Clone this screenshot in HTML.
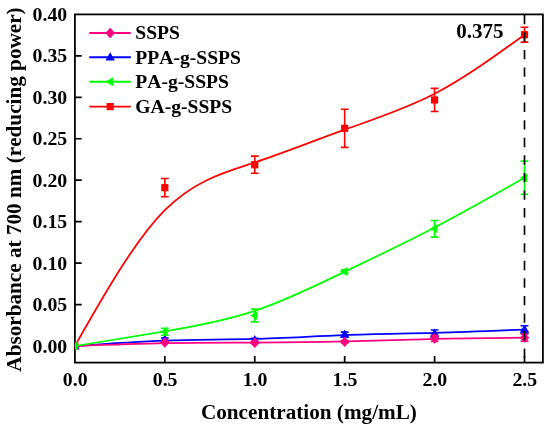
<!DOCTYPE html>
<html><head><meta charset="utf-8"><title>chart</title><style>html,body{margin:0;padding:0;background:#fff}svg{display:block}</style></head><body>
<svg width="550" height="425" viewBox="0 0 550 425">
<rect width="550" height="425" fill="#fff"/>
<rect x="74.90" y="14.40" width="468.00" height="348.20" fill="none" stroke="#000" stroke-width="1.8"/>
<path d="M164.82 362.60v-6.5M254.75 362.60v-6.5M344.67 362.60v-6.5M434.60 362.60v-6.5M524.52 362.60v-6.5M74.90 346.02h6.8M74.90 304.57h6.8M74.90 263.11h6.8M74.90 221.66h6.8M74.90 180.21h6.8M74.90 138.76h6.8M74.90 97.30h6.8M74.90 55.85h6.8" stroke="#000" stroke-width="1.7" fill="none"/>
<clipPath id="cp"><rect x="74.90" y="14.40" width="468.00" height="348.20"/></clipPath>
<g clip-path="url(#cp)">
<path d="M74.90 346.02 C104.88 293.24 134.85 240.45 164.82 210.23 C194.80 180.02 224.78 172.36 254.75 162.47 C284.72 152.57 314.70 140.44 344.67 129.65 C374.65 118.86 404.62 109.41 434.60 93.81 C464.57 78.21 494.55 56.46 524.52 34.71" fill="none" stroke="#ff0000" stroke-width="1.75"/>
<rect x="71.30" y="342.42" width="7.2" height="7.2" fill="#ff0000"/>
<path d="M164.82 178.55V196.79M160.92 178.55h7.8M160.92 196.79h7.8" stroke="#ff0000" stroke-width="1.6" fill="none"/>
<rect x="161.22" y="184.07" width="7.2" height="7.2" fill="#ff0000"/>
<path d="M254.75 156.17V173.25M250.85 156.17h7.8M250.85 173.25h7.8" stroke="#ff0000" stroke-width="1.6" fill="none"/>
<rect x="251.15" y="161.11" width="7.2" height="7.2" fill="#ff0000"/>
<path d="M344.67 109.24V147.38M340.77 109.24h7.8M340.77 147.38h7.8" stroke="#ff0000" stroke-width="1.6" fill="none"/>
<rect x="341.07" y="124.71" width="7.2" height="7.2" fill="#ff0000"/>
<path d="M434.60 88.35V111.56M430.70 88.35h7.8M430.70 111.56h7.8" stroke="#ff0000" stroke-width="1.6" fill="none"/>
<rect x="431.00" y="96.36" width="7.2" height="7.2" fill="#ff0000"/>
<path d="M524.52 27.25V42.17M520.62 27.25h7.8M520.62 42.17h7.8" stroke="#ff0000" stroke-width="1.6" fill="none"/>
<rect x="520.92" y="31.11" width="7.2" height="7.2" fill="#ff0000"/>
<path d="M74.90 346.02 C104.88 343.81 134.85 341.60 164.82 340.57 C194.80 339.55 224.78 339.72 254.75 338.89 C284.72 338.06 314.70 336.24 344.67 335.16 C374.65 334.08 404.62 333.75 434.60 332.93 C464.57 332.12 494.55 330.82 524.52 329.52" fill="none" stroke="#0000ff" stroke-width="1.75"/>
<polygon points="74.90,341.02 79.60,349.32 70.20,349.32" fill="#0000ff"/>
<path d="M164.82 338.06V340.71M160.92 338.06h7.8M160.92 340.71h7.8" stroke="#0000ff" stroke-width="1.6" fill="none"/>
<polygon points="164.82,334.39 169.52,342.69 160.12,342.69" fill="#0000ff"/>
<path d="M254.75 338.23V341.54M250.85 338.23h7.8M250.85 341.54h7.8" stroke="#0000ff" stroke-width="1.6" fill="none"/>
<polygon points="254.75,334.88 259.45,343.18 250.05,343.18" fill="#0000ff"/>
<path d="M344.67 332.17V336.65M340.77 332.17h7.8M340.77 336.65h7.8" stroke="#0000ff" stroke-width="1.6" fill="none"/>
<polygon points="344.67,329.41 349.37,337.71 339.97,337.71" fill="#0000ff"/>
<path d="M434.60 329.94V336.90M430.70 329.94h7.8M430.70 336.90h7.8" stroke="#0000ff" stroke-width="1.6" fill="none"/>
<polygon points="434.60,328.42 439.30,336.72 429.90,336.72" fill="#0000ff"/>
<path d="M524.52 325.71V333.33M520.62 325.71h7.8M520.62 333.33h7.8" stroke="#0000ff" stroke-width="1.6" fill="none"/>
<polygon points="524.52,324.52 529.23,332.82 519.82,332.82" fill="#0000ff"/>
<path d="M74.90 346.02 C104.88 344.83 134.85 343.64 164.82 343.09 C194.80 342.54 224.78 342.62 254.75 342.52 C284.72 342.43 314.70 342.15 344.67 341.46 C374.65 340.77 404.62 339.66 434.60 338.96 C464.57 338.25 494.55 337.95 524.52 337.65" fill="none" stroke="#ff0080" stroke-width="1.75"/>
<polygon points="70.10,346.02 74.90,340.82 79.70,346.02 74.90,351.22" fill="#ff0080"/>
<path d="M164.82 341.63V343.28M160.92 341.63h7.8M160.92 343.28h7.8" stroke="#ff0080" stroke-width="1.6" fill="none"/>
<polygon points="160.02,342.45 164.82,337.25 169.62,342.45 164.82,347.65" fill="#ff0080"/>
<path d="M254.75 341.87V343.53M250.85 341.87h7.8M250.85 343.53h7.8" stroke="#ff0080" stroke-width="1.6" fill="none"/>
<polygon points="249.95,342.70 254.75,337.50 259.55,342.70 254.75,347.90" fill="#ff0080"/>
<path d="M344.67 341.04V342.70M340.77 341.04h7.8M340.77 342.70h7.8" stroke="#ff0080" stroke-width="1.6" fill="none"/>
<polygon points="339.87,341.87 344.67,336.67 349.47,341.87 344.67,347.07" fill="#ff0080"/>
<path d="M434.60 335.66V341.46M430.70 335.66h7.8M430.70 341.46h7.8" stroke="#ff0080" stroke-width="1.6" fill="none"/>
<polygon points="429.80,338.56 434.60,333.36 439.40,338.56 434.60,343.76" fill="#ff0080"/>
<path d="M524.52 334.16V341.13M520.62 334.16h7.8M520.62 341.13h7.8" stroke="#ff0080" stroke-width="1.6" fill="none"/>
<polygon points="519.73,337.65 524.52,332.45 529.32,337.65 524.52,342.85" fill="#ff0080"/>
<path d="M74.90 346.02 C104.88 341.27 134.85 336.51 164.82 331.43 C194.80 326.34 224.78 320.93 254.75 310.90 C284.72 300.86 314.70 286.22 344.67 271.76 C374.65 257.31 404.62 243.05 434.60 227.41 C464.57 211.77 494.55 194.75 524.52 177.72" fill="none" stroke="#00ff00" stroke-width="1.75"/>
<polygon points="70.20,346.02 77.70,341.52 77.70,350.52" fill="#00ff00"/>
<path d="M164.82 328.28V335.24M160.92 328.28h7.8M160.92 335.24h7.8" stroke="#00ff00" stroke-width="1.6" fill="none"/>
<polygon points="160.12,331.76 167.62,327.26 167.62,336.26" fill="#00ff00"/>
<path d="M254.75 309.13V321.89M250.85 309.13h7.8M250.85 321.89h7.8" stroke="#00ff00" stroke-width="1.6" fill="none"/>
<polygon points="250.05,315.51 257.55,311.01 257.55,320.01" fill="#00ff00"/>
<path d="M344.67 269.91V273.23M340.77 269.91h7.8M340.77 273.23h7.8" stroke="#00ff00" stroke-width="1.6" fill="none"/>
<polygon points="339.97,271.57 347.47,267.07 347.47,276.07" fill="#00ff00"/>
<path d="M434.60 220.50V237.08M430.70 220.50h7.8M430.70 237.08h7.8" stroke="#00ff00" stroke-width="1.6" fill="none"/>
<polygon points="429.90,228.79 437.40,224.29 437.40,233.29" fill="#00ff00"/>
<path d="M524.52 161.14V194.30M520.62 161.14h7.8M520.62 194.30h7.8" stroke="#00ff00" stroke-width="1.6" fill="none"/>
<polygon points="519.82,177.72 527.32,173.22 527.32,182.22" fill="#00ff00"/>
</g>
<path d="M524.5 14.76V362" stroke="#000" stroke-width="1.65" stroke-dasharray="9.4 8.17" fill="none"/>
<g font-family="'Liberation Serif',serif" font-weight="bold" fill="#000" style="font-kerning:none">
<text x="67.2" y="352.52" font-size="19.8" text-anchor="end">0.00</text>
<text x="67.2" y="311.07" font-size="19.8" text-anchor="end">0.05</text>
<text x="67.2" y="269.61" font-size="19.8" text-anchor="end">0.10</text>
<text x="67.2" y="228.16" font-size="19.8" text-anchor="end">0.15</text>
<text x="67.2" y="186.71" font-size="19.8" text-anchor="end">0.20</text>
<text x="67.2" y="145.26" font-size="19.8" text-anchor="end">0.25</text>
<text x="67.2" y="103.80" font-size="19.8" text-anchor="end">0.30</text>
<text x="67.2" y="62.35" font-size="19.8" text-anchor="end">0.35</text>
<text x="67.2" y="20.90" font-size="19.8" text-anchor="end">0.40</text>
<text x="75.20" y="386.2" font-size="19.8" text-anchor="middle">0.0</text>
<text x="165.12" y="386.2" font-size="19.8" text-anchor="middle">0.5</text>
<text x="255.05" y="386.2" font-size="19.8" text-anchor="middle">1.0</text>
<text x="344.97" y="386.2" font-size="19.8" text-anchor="middle">1.5</text>
<text x="434.90" y="386.2" font-size="19.8" text-anchor="middle">2.0</text>
<text x="524.82" y="386.2" font-size="19.8" text-anchor="middle">2.5</text>
<text x="308.9" y="419.4" font-size="21.2" text-anchor="middle">Concentration (mg/mL)</text>
<text transform="translate(21.3 189.5) rotate(-90)" font-size="21.2" text-anchor="middle">Absorbance at 700 nm (reducing power)</text>
<text x="456.3" y="37.9" font-size="21">0.375</text>
<path d="M89.3 33.00H130.8" stroke="#ff0080" stroke-width="1.9"/>
<polygon points="105.40,33.00 110.20,27.80 115.00,33.00 110.20,38.20" fill="#ff0080"/>
<text x="135.3" y="39.30" font-size="19.6">SSPS</text>
<path d="M89.3 57.20H130.8" stroke="#0000ff" stroke-width="1.9"/>
<polygon points="110.20,52.20 114.90,60.50 105.50,60.50" fill="#0000ff"/>
<text x="135.3" y="63.50" font-size="19.6">PPA-g-SSPS</text>
<path d="M89.3 81.80H130.8" stroke="#00ff00" stroke-width="1.9"/>
<polygon points="105.50,81.80 113.00,77.30 113.00,86.30" fill="#00ff00"/>
<text x="135.3" y="88.10" font-size="19.6">PA-g-SSPS</text>
<path d="M89.3 106.60H130.8" stroke="#ff0000" stroke-width="1.9"/>
<rect x="106.60" y="103.00" width="7.2" height="7.2" fill="#ff0000"/>
<text x="135.3" y="112.90" font-size="19.6">GA-g-SSPS</text>
</g>
</svg>
</body></html>
